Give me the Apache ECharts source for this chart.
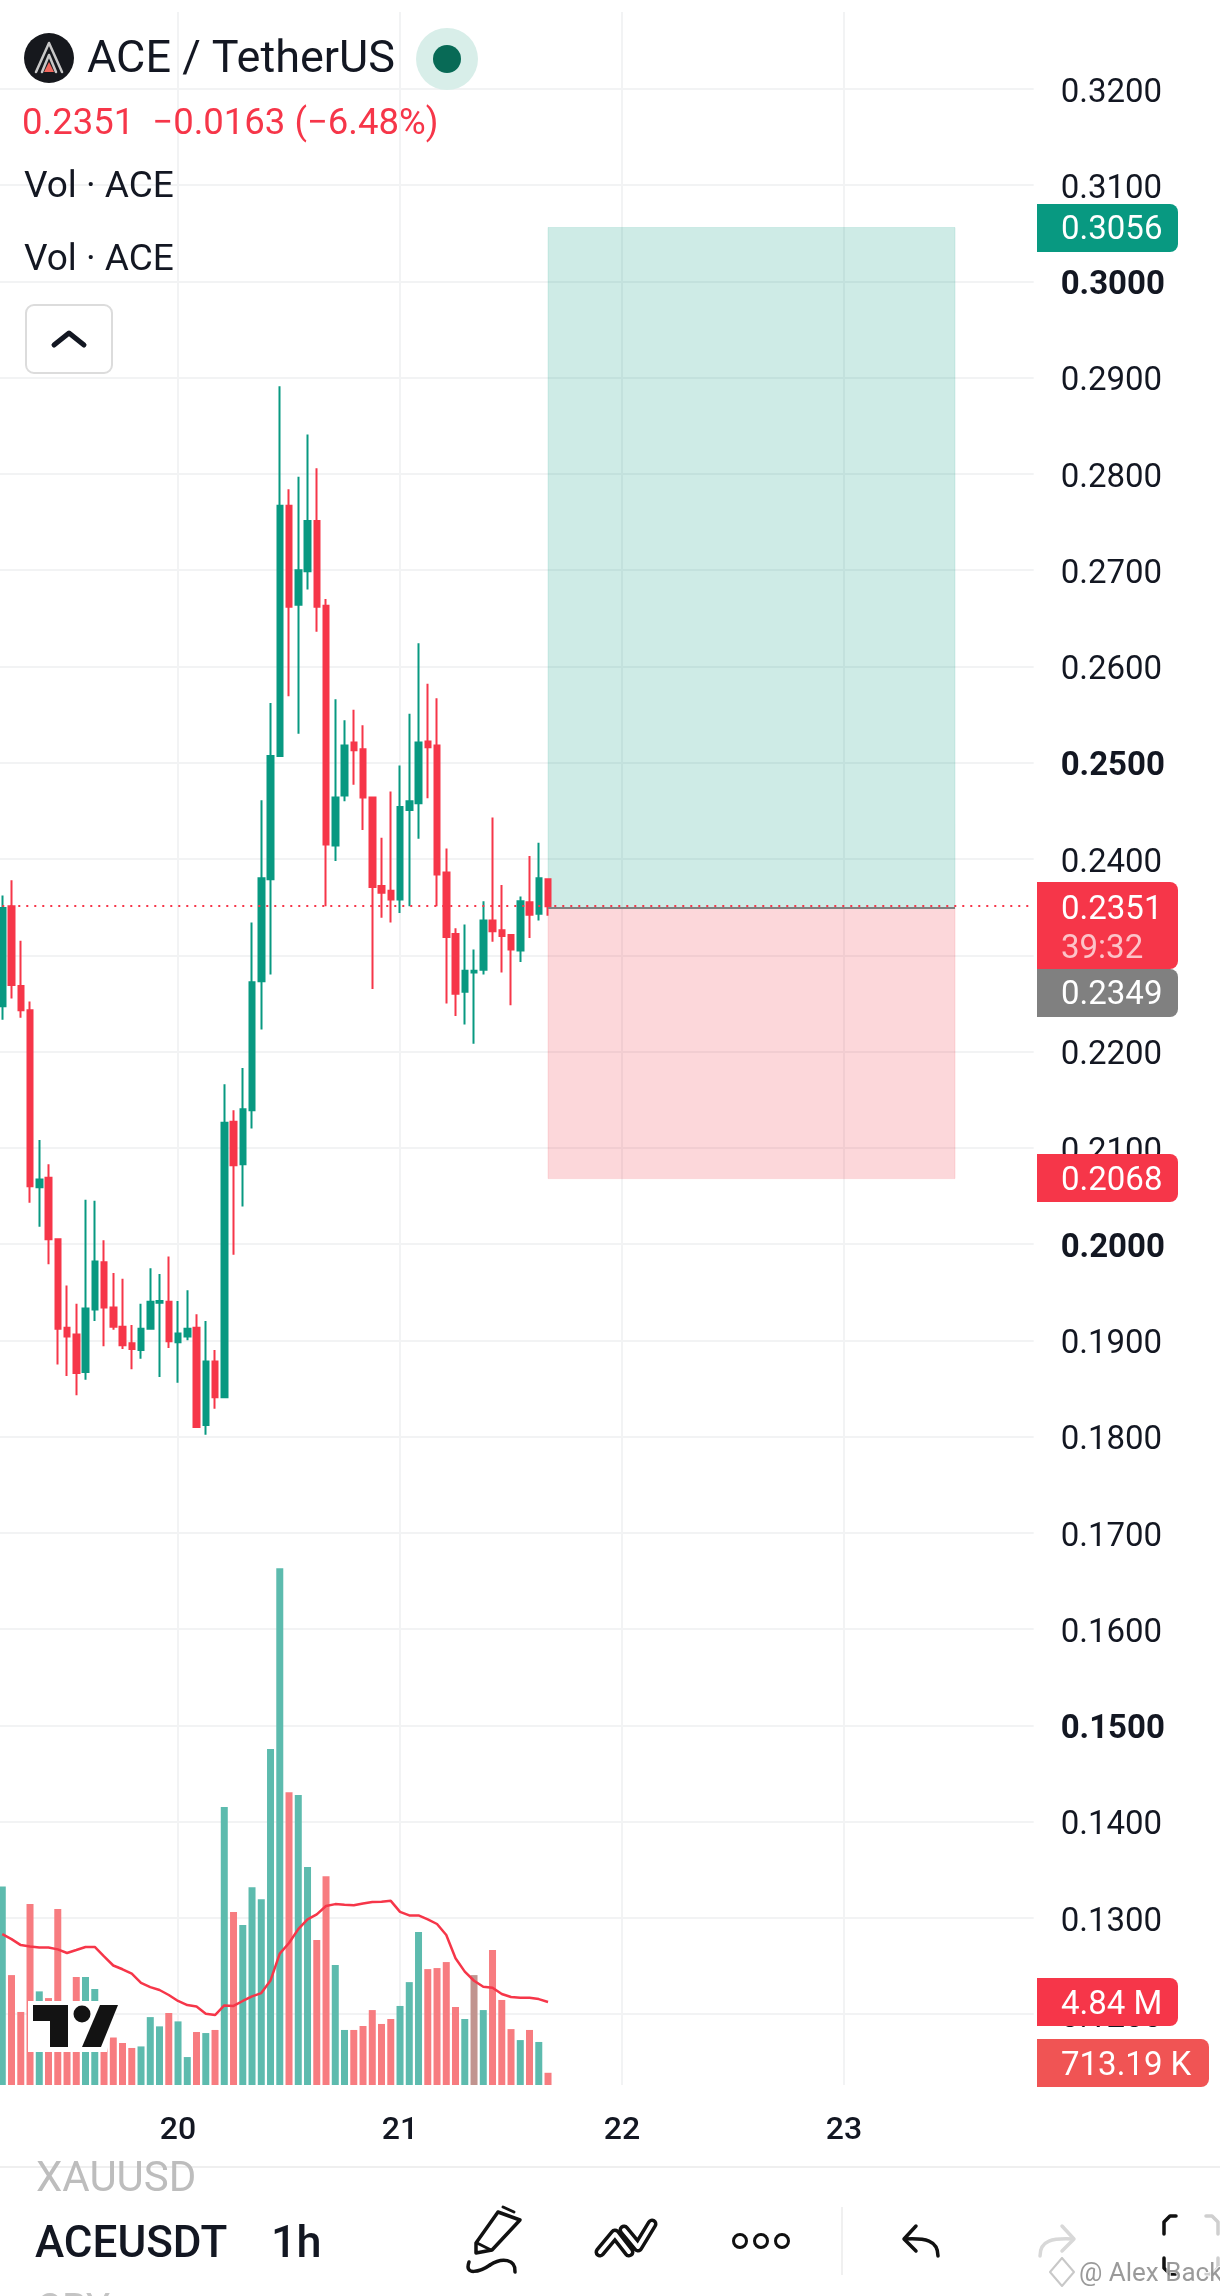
<!DOCTYPE html>
<html>
<head>
<meta charset="utf-8">
<style>html,body{margin:0;padding:0;background:#fff}#c{width:1220px;height:2296px}</style>
<script src="https://cdn.jsdelivr.net/npm/echarts@6/dist/echarts.min.js"></script>
</head>
<body>
<div id="c"></div>
<script>
// ---- data: one entry per 1h bar, [open, close, low, high] ----
const candles = [
[.2247,.2349,.2233,.2362],[.2351,.2269,.2255,.2378],[.2268,.2243,.2235,.2315],[.2243,.2060,.2043,.2252],
[.2059,.2067,.2018,.2108],[.2069,.2005,.1979,.2083],[.2005,.1912,.1875,.2005],[.1913,.1904,.1863,.1957],
[.1906,.1866,.1843,.1938],[.1867,.1933,.1859,.2046],[.1932,.1982,.1920,.2045],[.1981,.1934,.1894,.2004],
[.1934,.1914,.1911,.1970],[.1914,.1895,.1891,.1964],[.1897,.1891,.1870,.1916],[.1890,.1912,.1881,.1938],
[.1912,.1940,.1912,.1975],[.1939,.1941,.1862,.1969],[.1940,.1899,.1892,.1987],[.1898,.1907,.1856,.1941],
[.1904,.1912,.1900,.1952],[.1913,.1810,.1809,.1927],[.1812,.1878,.1802,.1920],[.1878,.1841,.1829,.1890],
[.1841,.2126,.1841,.2166],[.2127,.2082,.1989,.2139],[.2083,.2140,.2039,.2183],[.2139,.2272,.2120,.2334],
[.2273,.2380,.2223,.2461],[.2379,.2507,.2280,.2562],[.2507,.2767,.2507,.2891],[.2767,.2662,.2569,.2784],
[.2664,.2700,.2530,.2797],[.2699,.2751,.2680,.2841],[.2751,.2662,.2636,.2806],[.2663,.2415,.2351,.2670],
[.2414,.2464,.2398,.2566],[.2466,.2518,.2460,.2544],[.2521,.2513,.2477,.2555],[.2514,.2464,.2430,.2539],
[.2464,.2371,.2265,.2464],[.2372,.2365,.2339,.2422],[.2367,.2358,.2334,.2470],[.2358,.2454,.2344,.2497],
[.2451,.2460,.2351,.2551],[.2458,.2521,.2421,.2624],[.2522,.2516,.2463,.2582],[.2518,.2384,.2351,.2567],
[.2386,.2319,.2250,.2411],[.2322,.2260,.2237,.2328],[.2262,.2284,.2228,.2332],[.2282,.2284,.2208,.2306],
[.2285,.2336,.2280,.2356],[.2336,.2325,.2314,.2443],[.2326,.2320,.2282,.2373],[.2321,.2306,.2248,.2321],
[.2305,.2356,.2293,.2361],[.2355,.2342,.2318,.2403],[.2343,.2380,.2336,.2417],[.2379,.2351,.2341,.2379]
];
const volumes = [
11.58,6.41,4.26,10.55,5.46,5.07,10.26,3.26,6.30,6.30,5.60,2.33,2.77,2.45,2.16,2.25,3.96,3.42,4.20,3.71,
1.63,3.09,3.03,3.21,16.21,10.09,9.33,11.54,10.84,19.59,30.14,17.08,16.91,12.71,8.45,12.18,7.00,3.21,3.21,3.44,
4.37,3.56,3.85,4.61,6.00,8.92,6.76,6.82,7.17,4.55,3.85,6.41,4.37,7.87,4.96,3.26,2.62,3.21,2.51,0.713
];
const volumeMA = [
8.80,8.51,8.16,8.08,8.02,8.02,7.91,7.70,7.87,8.05,8.05,7.50,6.97,6.75,6.49,5.95,5.71,5.54,5.25,4.90,
4.66,4.58,4.16,4.08,4.64,4.61,4.90,5.17,5.36,6.10,7.66,8.28,9.09,9.66,9.95,10.44,10.55,10.51,10.48,10.59,
10.67,10.69,10.74,10.10,9.89,9.89,9.66,9.39,8.75,7.39,6.61,6.08,5.73,5.67,5.31,5.13,5.09,5.09,5.01,4.84
];
const dayLabels = ['20','21','22','23'];
const boldTicks = ['0.3000','0.2500','0.2000','0.1500'];
const lastPrice = 0.2351;
const entryPrice = 0.2349;
const targetPrice = 0.3056;
const stopPrice = 0.2068;
const positionStartBar = 59;
const positionEndBar = 103;
const highlightedVolumeBar = 51;

// ---- hourly categories: the 19th slot is midnight of day 20 ----
const categories = [];
for (let i = 0; i < 112; i++) {
  const h = i - 19;
  categories.push(h % 24 === 0 ? dayLabels[h / 24] : 'h' + h);
}
const isDay = (i, v) => dayLabels.includes(v);

const GREEN = '#089981', RED = '#F63649', INK = '#131722', FONT = 'Roboto';
const GRID_LINE = '#f2f3f4';

const T = (text, x, y, size, fill, extra) => ({
  type: 'text', z: 100, silent: true,
  style: Object.assign({text, x, y, fill, fontSize: size, fontFamily: FONT, verticalAlign: 'middle', align: 'left'}, extra || {})
});
const R = (x, y, w, h, fill, r, extra) => ({
  type: 'rect', z: 99, silent: true, shape: {x, y, width: w, height: h, r: r || 0},
  style: Object.assign({fill}, extra || {})
});
const PL = (pts, stroke, w, z) => ({
  type: 'polyline', z: z || 100, silent: true, shape: {points: pts},
  style: {stroke, lineWidth: w, fill: null, lineCap: 'round', lineJoin: 'round'}
});
const PG = (pts, fill, z) => ({type: 'polygon', z: z || 100, silent: true, shape: {points: pts}, style: {fill}});
const CIR = (cx, cy, r, fill, stroke, w, z) => ({
  type: 'circle', z: z || 100, silent: true, shape: {cx, cy, r},
  style: {fill: fill || null, stroke: stroke || null, lineWidth: w || 0}
});
const BZ = (x1,y1,cpx1,cpy1,cpx2,cpy2,x2,y2, stroke, w) => ({
  type: 'bezierCurve', z: 100, silent: true, shape: {x1,y1,cpx1,cpy1,cpx2,cpy2,x2,y2},
  style: {stroke, lineWidth: w, fill: null, lineCap: 'round'}
});

const tagX = 1037, labelX = 1061;
const fade = (x0,x1,y0,y1,from,to) => new echarts.graphic.LinearGradient(x0,y0,x1,y1,[{offset:0,color:from},{offset:1,color:to}]);
const chrome = [
  // header
  CIR(49, 58, 25, '#16181d'),
  PL([[36,72],[49,43],[62,72]], '#c8c8c8', 2.5),
  PL([[42,72],[49,55],[56,72]], '#c8c8c8', 2.5),
  PG([[49,62],[54,72],[44,72]], '#f0685e'),
  T('ACE / TetherUS', 87, 61, 45, INK),
  CIR(447, 59, 31, '#d8eee9'),
  CIR(447, 59, 14, '#086a56'),
  T('0.2351  \u22120.0163 (\u22126.48%)', 22, 125, 36.5, RED),
  T('Vol \u00b7 ACE', 24, 188, 37, INK),
  T('Vol \u00b7 ACE', 24, 261, 37, INK),
  R(26, 305, 86, 68, '#ffffff', 8, {stroke: '#dcdcdc', lineWidth: 2}),
  PL([[54,345],[69,333],[84,345]], INK, 5),
  // price tags
  R(tagX, 204, 141, 48, GREEN, [0,8,8,0]),
  T('0.3056', labelX, 231, 33, '#fff'),
  R(tagX, 882, 141, 87, RED, [0,8,8,0]),
  T('0.2351', labelX, 911, 33, '#fff'),
  T('39:32', labelX, 950, 33, 'rgba(255,255,255,0.7)'),
  R(tagX, 969, 141, 48, '#808080', [0,8,8,0]),
  T('0.2349', labelX, 996, 33, '#fff'),
  R(tagX, 1154, 141, 48, RED, [0,8,8,0]),
  T('0.2068', labelX, 1182, 33, '#fff'),
  R(tagX, 1978, 141, 48, RED, [0,8,8,0]),
  T('4.84 M', labelX, 2006, 33, '#fff'),
  R(tagX, 2039, 172, 48, '#F05454', [0,8,8,0]),
  T('713.19 K', labelX, 2067, 33, '#fff'),
  // TradingView mark
  PG([[28,2001],[118,2001],[107,2052],[28,2052]], '#ffffff', 98),
  PG([[33,2005],[68,2005],[68,2047],[50,2047],[50,2021],[33,2021]], '#131313'),
  CIR(82, 2014, 8.5, '#131313'),
  PG([[100,2005],[118,2005],[101,2047],[82,2047]], '#131313'),
  // toolbar
  R(0, 2166, 1220, 2, '#efefef'),
  T('XAUUSD', 36, 2180, 42, '#bdbdbd', {fontWeight: 400}),
  R(0, 2168, 300, 24, fade(0,0,0,1,'rgba(255,255,255,0.95)','rgba(255,255,255,0)')),
  R(0, 2140, 300, 26, '#fff'),
  T('ACEUSDT', 35, 2246, 44, INK, {fontWeight: 500}),
  R(200, 2215, 30, 60, fade(0,1,0,0,'rgba(255,255,255,0)','#fff')),
  T('1h', 271, 2246, 45, INK, {fontWeight: 500}),
  T('CBY', 36, 2312, 40, '#c4c4c4', {fontWeight: 400}),
  // pencil
  PL([[498,2212],[520,2220],[492,2250],[476,2253],[476,2243],[498,2212]], '#111', 3.5),
  PL([[477,2243],[491,2250]], '#111', 3),
  PL([[503,2207],[514,2212]], '#111', 3),
  BZ(469,2262,464,2276,480,2272,490,2265,'#111',3.5),
  BZ(490,2265,502,2257,516,2259,515,2272,'#111',3.5),
  // tools
  PL([[600,2252],[615,2234],[629,2252]], '#111', 11),
  PL([[600,2252],[615,2234],[629,2252]], '#fff', 4),
  PL([[624,2230],[638,2247],[652,2224]], '#111', 11),
  PL([[624,2230],[638,2247],[652,2224]], '#fff', 4),
  CIR(740, 2241, 6.5, '#fff', '#111', 3),
  CIR(761, 2241, 6.5, '#fff', '#111', 3),
  CIR(782, 2241, 6.5, '#fff', '#111', 3),
  R(841, 2207, 2, 68, '#f0f0f0'),
  PL([[916,2226],[904,2239],[916,2251]], '#111', 3.5),
  BZ(905,2239,925,2238,938,2240,938,2256,'#111',3.5),
  PL([[1062,2226],[1074,2239],[1062,2251]], '#d8d8d8', 3.5),
  BZ(1073,2239,1053,2238,1040,2240,1040,2256,'#d8d8d8',3.5),
  PL([[1176,2216],[1170,2216],[1164,2222],[1164,2234]], '#111', 3.5),
  PL([[1164,2258],[1164,2268],[1170,2274],[1176,2274]], '#111', 3.5),
  PL([[1206,2216],[1212,2216],[1218,2222],[1218,2234]], '#cfcfcf', 3.5),
  PL([[1218,2258],[1218,2268],[1212,2274],[1206,2274]], '#cfcfcf', 3.5),
  // watermark
  PL([[1062,2258],[1074,2272],[1062,2286],[1050,2272],[1062,2258]], '#c8c8c8', 2),
  T('@ Alex Back', 1079, 2274, 26, 'rgba(120,120,120,0.75)', {stroke: 'rgba(255,255,255,0.8)', lineWidth: 2})
];

const chart = echarts.init(document.getElementById('c'), null, {renderer: 'canvas'});
chart.setOption({
  animation: false,
  backgroundColor: '#ffffff',
  graphic: {elements: chrome},
  grid: [
    {left: -2.35, width: 1036, top: -7.43, height: 2117.94, containLabel: false, outerBoundsMode: 'none'},
    {left: -2.35, width: 1036, top: 12, height: 2073, containLabel: false, outerBoundsMode: 'none'}
  ],
  xAxis: [
    {type: 'category', gridIndex: 0, data: categories, show: false},
    {type: 'category', gridIndex: 1, data: categories,
      axisLine: {show: false},
      axisTick: {show: false, alignWithLabel: true, interval: isDay},
      splitLine: {show: true, interval: isDay, alignWithLabel: true, lineStyle: {color: GRID_LINE, width: 2}},
      axisLabel: {interval: isDay, margin: 30, color: INK, fontSize: 32, fontWeight: 500, fontFamily: FONT}
    }
  ],
  yAxis: [
    {type: 'value', gridIndex: 0, position: 'right', min: 0.11, max: 0.33, interval: 0.01,
      axisLine: {show: false}, axisTick: {show: false},
      splitLine: {show: true, showMinLine: false, showMaxLine: false, lineStyle: {color: GRID_LINE, width: 2}},
      axisLabel: {
        margin: 27, showMinLabel: false, showMaxLabel: false,
        formatter: v => { const s = v.toFixed(4); return boldTicks.includes(s) ? '{b|' + s + '}' : '{n|' + s + '}'; },
        rich: {
          n: {fontSize: 33, color: INK, fontFamily: FONT, padding: [9, 0, 0, 0]},
          b: {fontSize: 33, color: INK, fontFamily: FONT, fontWeight: 700, padding: [9, 0, 0, 0]}
        }
      }
    },
    {type: 'value', gridIndex: 1, min: 0, max: 120.9, show: false, splitLine: {show: false}}
  ],
  series: [
    {type: 'line', xAxisIndex: 0, yAxisIndex: 0, z: 1, data: [], silent: true,
      markArea: {silent: true, data: [
        [{xAxis: positionStartBar, yAxis: targetPrice, itemStyle: {color: 'rgba(8,153,129,0.2)', borderColor: 'rgba(8,153,129,0.12)', borderWidth: 1}},
         {xAxis: positionEndBar, yAxis: entryPrice}],
        [{xAxis: positionStartBar, yAxis: entryPrice, itemStyle: {color: 'rgba(242,54,69,0.2)', borderColor: 'rgba(242,54,69,0.12)', borderWidth: 1}},
         {xAxis: positionEndBar, yAxis: stopPrice}]
      ]},
      markLine: {silent: true, symbol: 'none', label: {show: false}, data: [
        [{xAxis: positionStartBar, yAxis: entryPrice, lineStyle: {color: '#808080', width: 2, type: 'solid'}},
         {xAxis: positionEndBar, yAxis: entryPrice}]
      ]}
    },
    {type: 'candlestick', xAxisIndex: 0, yAxisIndex: 0, z: 3, data: candles, barWidth: 6,
      itemStyle: {color: GREEN, color0: RED, borderColor: GREEN, borderColor0: RED, borderWidth: 2}
    },
    {type: 'line', xAxisIndex: 0, yAxisIndex: 0, z: 5, data: [], silent: true,
      markLine: {silent: true, symbol: 'none', label: {show: false},
        lineStyle: {color: RED, width: 2, type: [2, 6]},
        data: [[{xAxis: 0, yAxis: lastPrice}, {xAxis: 111, yAxis: lastPrice}]]}
    },
    {type: 'bar', xAxisIndex: 1, yAxisIndex: 1, z: 2, barWidth: 7, silent: true,
      data: volumes.map((v, i) => ({
        value: v,
        itemStyle: {color: i === highlightedVolumeBar ? '#c1948f' : (candles[i][1] >= candles[i][0] ? '#5dbbae' : '#f77c80')}
      }))
    },
    {type: 'line', xAxisIndex: 1, yAxisIndex: 1, z: 3, data: volumeMA, showSymbol: false, symbol: 'none',
      lineStyle: {color: RED, width: 2.5}, silent: true}
  ]
});
</script>
</body>
</html>
